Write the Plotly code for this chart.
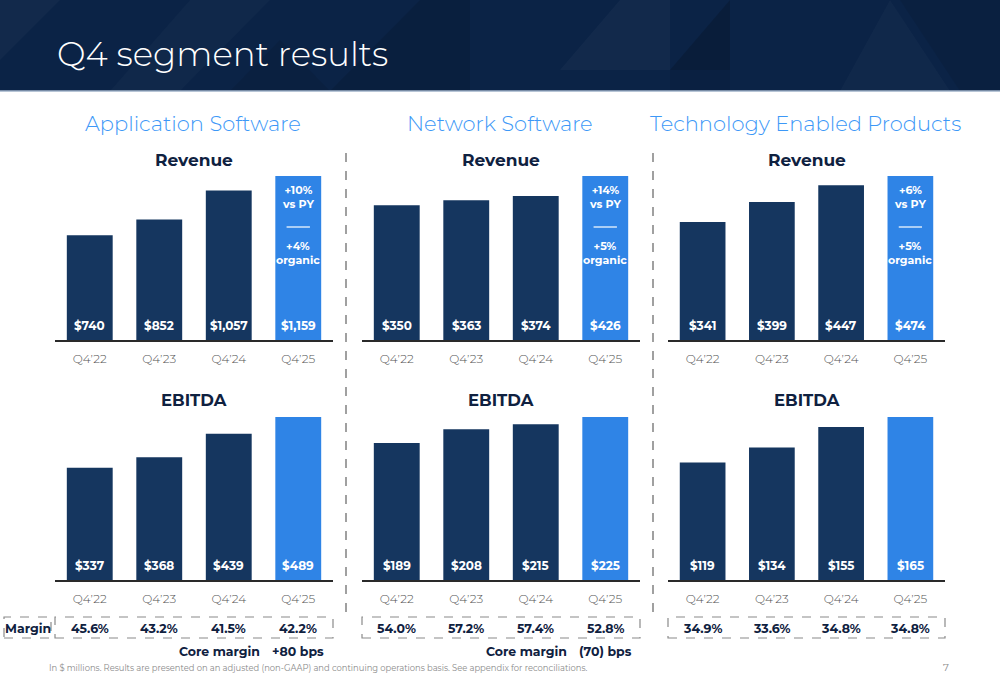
import plotly.graph_objects as go

W, H = 1000, 685

# ---------------- data ----------------
categories = ["Q4’22", "Q4’23", "Q4’24", "Q4’25"]
segments = ["Application Software", "Network Software", "Technology Enabled Products"]
revenue_app = [740, 852, 1057, 1159]
revenue_net = [350, 363, 374, 426]
revenue_tep = [341, 399, 447, 474]
ebitda_app = [337, 368, 439, 489]
ebitda_net = [189, 208, 215, 225]
ebitda_tep = [119, 134, 155, 165]
margin_app = ["45.6%", "43.2%", "41.5%", "42.2%"]
margin_net = ["54.0%", "57.2%", "57.4%", "52.8%"]
margin_tep = ["34.9%", "33.6%", "34.8%", "34.8%"]
growth_vs_py = ["+10%", "+14%", "+6%"]
growth_organic = ["+4%", "+5%", "+5%"]
core_margin = ["+80 bps", "(70) bps", ""]

revenues = [revenue_app, revenue_net, revenue_tep]
ebitdas = [ebitda_app, ebitda_net, ebitda_tep]
margins = [margin_app, margin_net, margin_tep]

# ---------------- styling ----------------
FONT = "Montserrat, Inter, 'Open Sans', sans-serif"
NAVY = "#0f2140"
DARK_BAR = "#15365f"
LIGHT_BAR = "#2f84e6"
SEG_BLUE = "#3d98f7"
GRAY = "#555555"


def px_x(x):
    return x / W


def px_y(y):
    return 1 - y / H


col_px = [(55, 333), (362, 640), (668, 945)]
rev_dom = [px_y(340), px_y(176)]
ebit_dom = [px_y(580), px_y(417)]

fig = go.Figure()
layout = dict(
    width=W, height=H, margin=dict(l=0, r=0, t=0, b=0),
    paper_bgcolor="white", plot_bgcolor="rgba(0,0,0,0)",
    showlegend=False, bargap=0.34,
    font=dict(family=FONT, color=NAVY),
)
annotations = []
shapes = []

# ---------------- header ----------------
shapes.append(dict(type="rect", xref="paper", yref="paper", x0=0, x1=1,
                   y0=px_y(91), y1=1, fillcolor="#0b2346", line_width=0, layer="below"))


def poly(points, color):
    p = "M " + " L ".join(f"{px_x(x):.4f},{px_y(y):.4f}" for x, y in points) + " Z"
    return dict(type="path", xref="paper", yref="paper", path=p,
                fillcolor=color, line_width=0, layer="below")


tri = [
    ([(0, 0), (60, 0), (0, 60)], "rgba(255,255,255,0.03)"),
    ([(110, 91), (190, 0), (270, 0), (180, 91)], "rgba(255,255,255,0.025)"),
    ([(330, 91), (420, 0), (470, 0), (470, 91)], "rgba(0,0,0,0.1)"),
    ([(560, 70), (620, 0), (670, 0), (670, 70)], "rgba(255,255,255,0.03)"),
    ([(670, 70), (730, 0), (730, 70)], "rgba(0,0,0,0.16)"),
    ([(670, 70), (730, 70), (730, 91), (670, 91)], "rgba(0,0,0,0.07)"),
    ([(840, 91), (890, 0), (950, 91)], "rgba(255,255,255,0.025)"),
    ([(900, 0), (1000, 0), (1000, 91), (960, 91)], "rgba(0,0,0,0.08)"),
    ([(230, 91), (280, 40), (330, 91)], "rgba(0,0,0,0.08)"),
]
for pts, c in tri:
    shapes.append(poly(pts, c))
shapes.append(dict(type="line", xref="paper", yref="paper", x0=0, x1=1,
                   y0=px_y(91), y1=px_y(91), line=dict(color="#9fb2c8", width=1.5)))

annotations.append(dict(text="Q4 segment results", xref="paper", yref="paper",
                        x=px_x(55), y=px_y(54), xanchor="left", yanchor="middle",
                        showarrow=False,
                        font=dict(family=FONT, size=34, color="white", weight=300)))

# ---------------- panels ----------------
ax_n = 0
for c in range(3):
    x0, x1 = col_px[c]
    xdom = [px_x(x0), px_x(x1)]
    xc = (x0 + x1) / 2
    # segment title
    annotations.append(dict(text=segments[c], xref="paper", yref="paper",
                            x=px_x(xc - 1), y=px_y(124), xanchor="center", yanchor="middle",
                            showarrow=False,
                            font=dict(family=FONT, size=21, color=SEG_BLUE, weight=300)))
    for r, (vals, dom, title, ty, tsize) in enumerate([
        (revenues[c], rev_dom, "Revenue", 160, 17),
        (ebitdas[c], ebit_dom, "EBITDA", 400, 16.5),
    ]):
        ax_n += 1
        xa = "x" if ax_n == 1 else f"x{ax_n}"
        ya = "y" if ax_n == 1 else f"y{ax_n}"
        key_x = "xaxis" if ax_n == 1 else f"xaxis{ax_n}"
        key_y = "yaxis" if ax_n == 1 else f"yaxis{ax_n}"
        colors = [DARK_BAR] * (len(vals) - 1) + [LIGHT_BAR]
        fig.add_trace(go.Bar(x=categories, y=vals, xaxis=xa, yaxis=ya,
                             marker=dict(color=colors, line=dict(width=0)),
                             hoverinfo="x+y"))
        layout[key_x] = dict(domain=xdom, anchor=ya, showgrid=False, zeroline=False,
                             showline=True, linecolor="#2a2a2a", linewidth=1.5,
                             ticks="", ticklabelstandoff=7,
                             tickfont=dict(family=FONT, size=12, color=GRAY, weight=300),
                             fixedrange=True)
        layout[key_y] = dict(domain=dom, anchor=xa, range=[0, max(vals)], visible=False,
                             fixedrange=True)
        # panel title
        annotations.append(dict(text=f"<b>{title}</b>", xref="paper", yref="paper",
                                x=px_x(xc), y=px_y(ty), xanchor="center", yanchor="middle",
                                showarrow=False, font=dict(family=FONT, size=tsize, color=NAVY)))
        # value labels
        for cat, v in zip(categories, vals):
            annotations.append(dict(text=f"<b>${v:,}</b>", xref=xa, yref=ya,
                                    x=cat, y=0, yanchor="bottom", yshift=5,
                                    showarrow=False,
                                    font=dict(family=FONT, size=12, color="white")))
        if r == 0:
            yd = f"{ya} domain"
            annotations.append(dict(text=f"<b>{growth_vs_py[c]}<br>vs PY</b>",
                                    xref=xa, yref=yd, x=categories[-1], y=1,
                                    yanchor="top", yshift=-5, showarrow=False,
                                    font=dict(family=FONT, size=11, color="white")))
            annotations.append(dict(text=f"<b>{growth_organic[c]}<br>organic</b>",
                                    xref=xa, yref=yd, x=categories[-1], y=1,
                                    yanchor="top", yshift=-61, showarrow=False,
                                    font=dict(family=FONT, size=11, color="white")))
            xd = f"{xa} domain"
            shapes.append(dict(type="line", xref=xd, yref=yd, x0=0.875 - 0.042,
                               x1=0.875 + 0.042, y0=(340 - 227) / 164, y1=(340 - 227) / 164,
                               line=dict(color="white", width=1.2)))
        else:
            # margin row
            shapes.append(dict(type="rect", xref="paper", yref="paper",
                               x0=px_x(x0), x1=px_x(x1), y0=px_y(638), y1=px_y(617),
                               line=dict(color="#8a8a8a", width=1.2, dash="dash")))
            for cat, m in zip(categories, margins[c]):
                annotations.append(dict(text=f"<b>{m}</b>", xref=xa, yref="paper",
                                        x=cat, y=px_y(628), yanchor="middle",
                                        showarrow=False,
                                        font=dict(family=FONT, size=12.5, color=NAVY)))
            if core_margin[c]:
                annotations.append(dict(text="<b>Core margin</b>", xref="paper", yref="paper",
                                        x=px_x(x1 - 71), y=px_y(651), xanchor="right",
                                        yanchor="middle", showarrow=False,
                                        font=dict(family=FONT, size=12.5, color=NAVY)))
                annotations.append(dict(text=f"<b>{core_margin[c]}</b>", xref=xa, yref="paper",
                                        x=categories[-1], y=px_y(651), yanchor="middle",
                                        showarrow=False,
                                        font=dict(family=FONT, size=12.5, color=NAVY)))

# "Margin" label box
shapes.append(dict(type="rect", xref="paper", yref="paper", x0=px_x(4), x1=px_x(51),
                   y0=px_y(638), y1=px_y(617),
                   line=dict(color="#8a8a8a", width=1.2, dash="dash")))
annotations.append(dict(text="<b>Margin</b>", xref="paper", yref="paper", x=px_x(27.5),
                        y=px_y(628), xanchor="center", yanchor="middle", showarrow=False,
                        font=dict(family=FONT, size=12.5, color=NAVY)))

# vertical dashed separators
for sx in (346, 653):
    shapes.append(dict(type="line", xref="paper", yref="paper", x0=px_x(sx), x1=px_x(sx),
                       y0=px_y(612), y1=px_y(150),
                       line=dict(color="#a0a0a0", width=2, dash="dash")))

# footnote and page number
annotations.append(dict(text="In $ millions. Results are presented on an adjusted (non-GAAP) and continuing operations basis. See appendix for reconciliations.",
                        xref="paper", yref="paper", x=px_x(47), y=px_y(667),
                        xanchor="left", yanchor="middle", showarrow=False,
                        font=dict(family=FONT, size=8.4, color="#8a8a8a")))
annotations.append(dict(text="7", xref="paper", yref="paper", x=px_x(946), y=px_y(667),
                        xanchor="center", yanchor="middle", showarrow=False,
                        font=dict(family=FONT, size=10, color="#8a8a8a")))

layout["annotations"] = annotations
layout["shapes"] = shapes
fig.update_layout(**layout)
fig.write_html("out.html")
